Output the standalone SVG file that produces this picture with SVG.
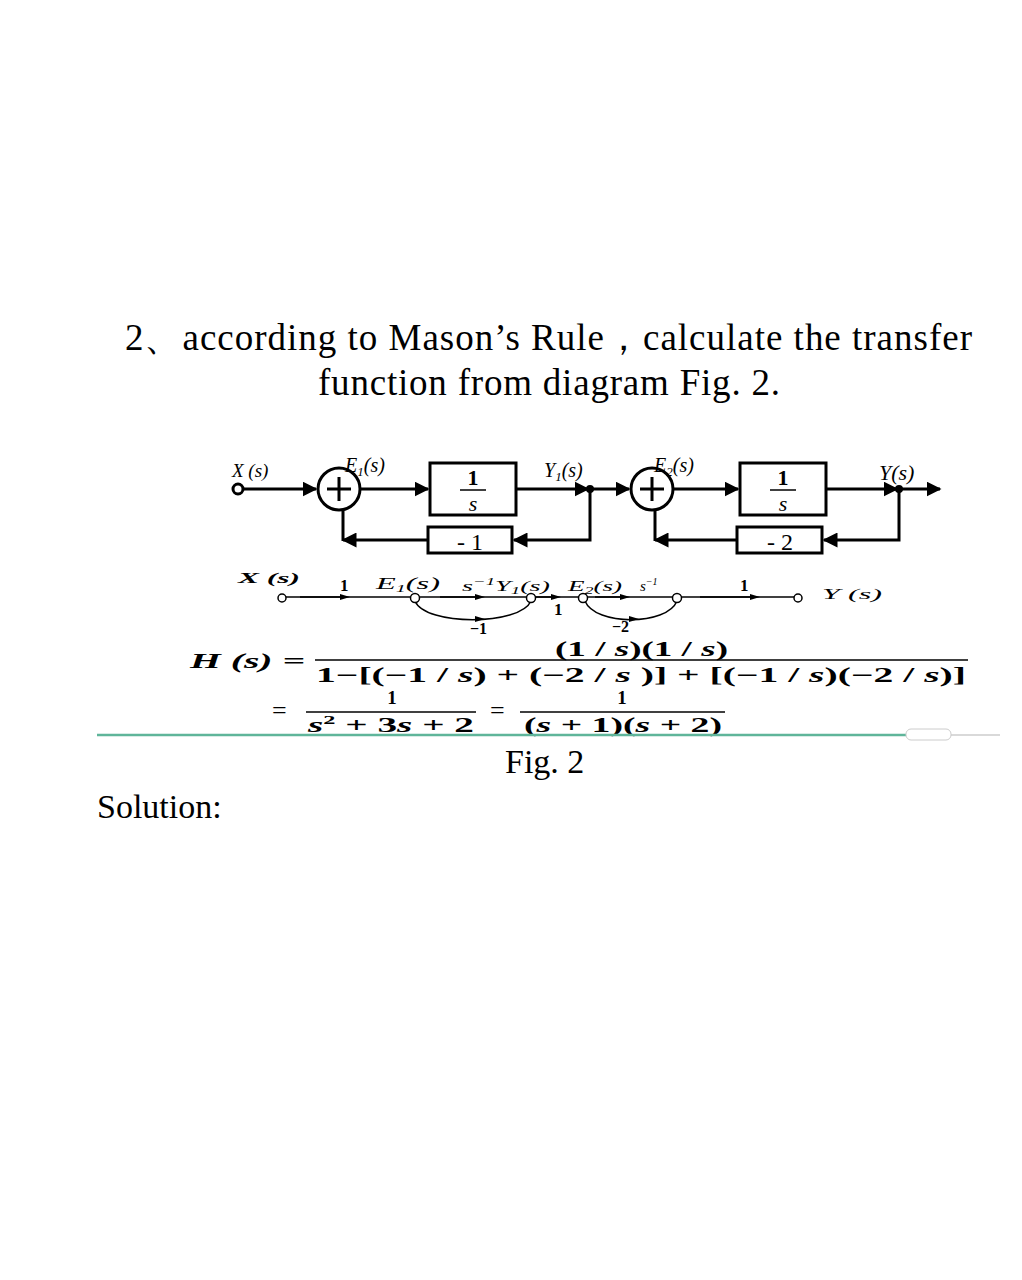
<svg xmlns="http://www.w3.org/2000/svg" width="1022" height="1280" viewBox="0 0 1022 1280">
<style>
.t{font-family:"Liberation Serif",serif;fill:#000}
.m{font-family:"Liberation Serif",serif;font-style:italic;fill:#000}
.ln{stroke:#000;stroke-width:3;fill:none}
.th{stroke:#000;stroke-width:1.5;fill:none}
.bx{stroke:#000;stroke-width:3;fill:#fff}
</style>
<defs>
<marker id="a" viewBox="0 0 10 10" refX="9" refY="5" markerWidth="5" markerHeight="5" orient="auto"><path d="M0,0L10,5L0,10z" fill="#000"/></marker>
<marker id="b" viewBox="0 0 10 10" refX="5" refY="5" markerWidth="7" markerHeight="7" orient="auto"><path d="M0,2L10,5L0,8z" fill="#000"/></marker>
</defs>
<rect width="1022" height="1280" fill="#fff"/>
<text class="t" x="125" y="350" font-size="37" textLength="847" lengthAdjust="spacing">2、according to Mason’s Rule，calculate the transfer</text>
<text class="t" x="318" y="395" font-size="37" textLength="462" lengthAdjust="spacing">function from diagram Fig. 2.</text>

<g id="connectors">
<path class="ln" d="M243,489H316" marker-end="url(#a)"/>
<path class="ln" d="M360,489H428" marker-end="url(#a)"/>
<path class="ln" d="M516,489H588" marker-end="url(#a)"/>
<path class="ln" d="M590,489H629" marker-end="url(#a)"/>
<path class="ln" d="M590,489V540H514" marker-end="url(#a)"/>
<path class="ln" d="M428,540H343" marker-end="url(#a)"/>
<path class="ln" d="M343,541V510"/>
<path class="ln" d="M673,489H738" marker-end="url(#a)"/>
<path class="ln" d="M826,489H897" marker-end="url(#a)"/>
<path class="ln" d="M899,489H940" marker-end="url(#a)"/>
<path class="ln" d="M899,489V540H824" marker-end="url(#a)"/>
<path class="ln" d="M737,540H655" marker-end="url(#a)"/>
<path class="ln" d="M655,541V510"/>
<!-- signal flow -->
<path class="th" d="M286,597H410"/>
<path class="th" d="M300,597H345" marker-end="url(#b)"/>
<path class="th" d="M420,597H527"/>
<path class="th" d="M440,597H480" marker-end="url(#b)"/>
<path class="th" d="M535,597H579"/>
<path class="th" d="M535,597H556" marker-end="url(#b)"/>
<path class="th" d="M587,597H673"/>
<path class="th" d="M595,597H625" marker-end="url(#b)"/>
<path class="th" d="M681,597H794"/>
<path class="th" d="M700,597H755" marker-end="url(#b)"/>
<path class="th" d="M415,601C425,626 520,626 531,601"/>
<path class="th" d="M480,619H476" marker-end="url(#b)" transform="rotate(180 478 619)"/>
<path class="th" d="M585,601C595,626 667,626 677,601"/>
<path class="th" d="M634,619H630" marker-end="url(#b)" transform="rotate(180 632 619)"/>
</g>

<g id="nodes">
<circle cx="238" cy="489" r="5" fill="#fff" stroke="#000" stroke-width="3"/>
<g id="sum1"><circle cx="339" cy="489" r="21" class="bx"/><path class="ln" d="M327,489h24M339,477v24"/></g>
<g id="g1"><rect x="430" y="463" width="86" height="52" class="bx"/><text class="t" x="473" y="485" font-size="22" text-anchor="middle" font-weight="bold">1</text><path class="th" d="M460,490h26"/><text class="m" x="473" y="511" font-size="22" text-anchor="middle">s</text></g>
<circle cx="590" cy="489" r="4"/>
<g id="sum2"><circle cx="652" cy="489" r="21" class="bx"/><path class="ln" d="M640,489h24M652,477v24"/></g>
<g id="g2"><rect x="740" y="463" width="86" height="52" class="bx"/><text class="t" x="783" y="485" font-size="22" text-anchor="middle" font-weight="bold">1</text><path class="th" d="M770,490h26"/><text class="m" x="783" y="511" font-size="22" text-anchor="middle">s</text></g>
<circle cx="899" cy="489" r="4"/>
<g id="h1"><rect x="428" y="527" width="84" height="26" class="bx"/><text class="t" x="470" y="550" font-size="24" text-anchor="middle">- 1</text></g>
<g id="h2"><rect x="737" y="527" width="85" height="26" class="bx"/><text class="t" x="780" y="550" font-size="24" text-anchor="middle">- 2</text></g>
<text class="m" x="232" y="477" font-size="19">X (s)</text>
<text class="m" x="345" y="472" font-size="20">E<tspan font-size="13" dy="4">1</tspan><tspan dy="-4">(s)</tspan></text>
<text class="m" x="544" y="477" font-size="20">Y<tspan font-size="13" dy="4">1</tspan><tspan dy="-4">(s)</tspan></text>
<text class="m" x="654" y="472" font-size="20">E<tspan font-size="13" dy="4">2</tspan><tspan dy="-4">(s)</tspan></text>
<text class="m" x="879" y="480" font-size="22">Y(s)</text>

<g id="sfg" fill="#fff" stroke="#000" stroke-width="1.5">
<circle cx="282" cy="598" r="4"/><circle cx="415" cy="598" r="4.5"/><circle cx="531" cy="598" r="4.5"/><circle cx="583" cy="598" r="4.5"/><circle cx="677" cy="598" r="4.5"/><circle cx="798" cy="598" r="4"/>
</g>
<text class="m" x="238" y="583" font-size="14" font-weight="bold" textLength="62" lengthAdjust="spacingAndGlyphs">X (s)</text>
<text class="t" x="340" y="591" font-size="17" font-weight="bold">1</text>
<text class="m" x="376" y="589" font-size="16" textLength="64" lengthAdjust="spacingAndGlyphs">E<tspan font-size="10" dy="3">1</tspan><tspan dy="-3">(s)</tspan></text>
<text class="m" x="462" y="591" font-size="15" textLength="88" lengthAdjust="spacingAndGlyphs">s<tspan font-size="10" dy="-6">−1</tspan><tspan dy="6">Y</tspan><tspan font-size="10" dy="3">1</tspan><tspan dy="-3">(s)</tspan></text>
<text class="m" x="568" y="591" font-size="15" textLength="54" lengthAdjust="spacingAndGlyphs">E<tspan font-size="10" dy="3">2</tspan><tspan dy="-3">(s)</tspan></text>
<text class="m" x="640" y="591" font-size="15">s<tspan font-size="10" dy="-6">−1</tspan></text>
<text class="t" x="740" y="591" font-size="17" font-weight="bold">1</text>
<text class="m" x="822" y="599" font-size="15" textLength="60" lengthAdjust="spacingAndGlyphs">Y (s)</text>
<text class="t" x="554" y="615" font-size="17" font-weight="bold">1</text>
<text class="t" x="470" y="634" font-size="16" font-weight="bold">−1</text>
<text class="t" x="612" y="632" font-size="16" font-weight="bold">−2</text>
</g>

<g id="formula">
<text class="m" x="190" y="668" font-size="21" font-weight="bold" textLength="115" lengthAdjust="spacingAndGlyphs">H (s) =</text>
<text class="t" x="555" y="656" font-size="21" font-weight="bold" textLength="173" lengthAdjust="spacingAndGlyphs">(1 / <tspan font-style="italic">s</tspan>)(1 / <tspan font-style="italic">s</tspan>)</text>
<path class="th" d="M315,660H968"/>
<text class="t" x="316" y="682" font-size="21" font-weight="bold" textLength="650" lengthAdjust="spacingAndGlyphs">1−[(−1 / <tspan font-style="italic">s</tspan>) + (−2 / <tspan font-style="italic">s</tspan>  )] + [(−1 / <tspan font-style="italic">s</tspan>)(−2 / <tspan font-style="italic">s</tspan>)]</text>
<text class="t" x="272" y="719" font-size="26">=</text>
<text class="t" x="392" y="704" font-size="19" text-anchor="middle" font-weight="bold">1</text>
<path class="th" d="M306,712H476"/>
<text class="t" x="308" y="732" font-size="21" font-weight="bold" textLength="166" lengthAdjust="spacingAndGlyphs"><tspan font-style="italic">s</tspan><tspan font-size="13" dy="-8">2</tspan><tspan dy="8"> + 3</tspan><tspan font-style="italic">s</tspan> + 2</text>
<text class="t" x="490" y="719" font-size="26">=</text>
<text class="t" x="622" y="704" font-size="19" text-anchor="middle" font-weight="bold">1</text>
<path class="th" d="M520,712H725"/>
<text class="t" x="524" y="732" font-size="21" font-weight="bold" textLength="198" lengthAdjust="spacingAndGlyphs">(<tspan font-style="italic">s</tspan> + 1)(<tspan font-style="italic">s</tspan> + 2)</text>
</g>
<path d="M97,735H908" stroke="#5fb59a" stroke-width="2.5"/>
<path d="M950,735H1000" stroke="#ccc" stroke-width="1.5"/>
<rect x="906" y="729" width="45" height="11" rx="5" fill="#fff" stroke="#ccc"/>
<text class="t" x="505" y="773" font-size="34">Fig. 2</text>
<text class="t" x="97" y="818" font-size="34">Solution:</text>
</svg>
